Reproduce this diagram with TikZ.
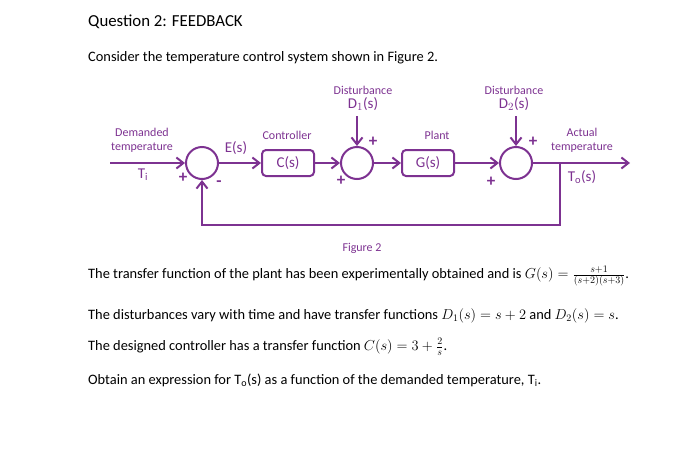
\documentclass[tikz,border=0pt]{standalone}
\usepackage{fontspec}
\setmainfont{Carlito}
\usetikzlibrary{arrows.meta}
\definecolor{pur}{RGB}{125,50,145}
\tikzset{
 sumnode/.style={circle,draw=pur,line width=2pt,minimum size=32pt,inner sep=0pt},
 blk/.style={rectangle,rounded corners=4pt,draw=pur,line width=2pt,minimum width=52pt,minimum height=26pt,text=pur,font=\fontsize{15}{15}\selectfont},
 sig/.style={draw=pur,line width=2.4pt,-{Straight Barb[length=7pt,width=11pt,line width=2pt]}},
 lbl/.style={text=pur,font=\fontsize{12}{13}\selectfont,inner sep=0pt},
 big/.style={text=pur,font=\fontsize{15}{15}\selectfont,inner sep=0pt},
 sgn/.style={text=pur,font=\bfseries\fontsize{17}{17}\selectfont,inner sep=0pt},
 txt/.style={anchor=west,inner sep=0pt,font=\fontsize{14.4}{16}\selectfont},
}
\begin{document}
\begin{tikzpicture}[x=1pt,y=-1pt]
\useasboundingbox (0,0) rectangle (700,474);
\node[txt,font=\fontsize{16.8}{18}\selectfont] (title) at (88,22) {Question 2: FEEDBACK};
\node[txt] (intro) at (88,58) {Consider the temperature control system shown in Figure 2.};
\node[sumnode] (s1) at (202,163) {};
\node[blk] (c) at (288,163) {C(s)};
\node[sumnode] (s2) at (357,163) {};
\node[blk] (g) at (428,163) {G(s)};
\node[sumnode] (s3) at (516,163) {};
\coordinate (in) at (110,163);
\coordinate (out) at (630,163);
\coordinate (br) at (560,163);
\coordinate (d1) at (357,116);
\coordinate (d2) at (516,116);
\draw[sig] (in) -- (s1);
\draw[sig] (s1) -- (c);
\draw[sig] (c) -- (s2);
\draw[sig] (s2) -- (g);
\draw[sig] (g) -- (s3);
\draw[sig] (s3) -- (out);
\draw[sig] (d1) -- (s2);
\draw[sig] (d2) -- (s3);
\draw[sig] (br) -- (560,225) -- (202,225) -- (s1);
\node[lbl] (dt1) at (363,90) {Disturbance};
\node[big] (dd1) at (363,104) {D$_1$(s)};
\node[lbl] (dt2) at (514,90) {Disturbance};
\node[big] (dd2) at (514,104) {D$_2$(s)};
\node[lbl] (cl) at (287,135) {Controller};
\node[lbl] (pl) at (437,135) {Plant};
\node[lbl] (dm) at (142,132) {Demanded};
\node[lbl] (dtm) at (142,148) {temperature};
\node[big] (ti) at (143,175) {T$_\mathrm{i}$};
\node[big] (es) at (236,148) {E(s)};
\node[lbl] (ac) at (582,132) {Actual};
\node[lbl] (atm) at (582,148) {temperature};
\node[big] (to) at (582,177) {T$_\mathrm{o}$(s)};
\node[sgn] (p1) at (183,178) {+};
\node[sgn] (m1) at (219,184) {-};
\node[sgn] (p2) at (341,181) {+};
\node[sgn] (p3) at (373,142) {+};
\node[sgn] (p4) at (491,182) {+};
\node[sgn] (p5) at (533,142) {+};
\node[lbl] (fig) at (362,248) {Figure 2};
\node[txt] (l1) at (88,276) {The transfer function of the plant has been experimentally obtained and is $G(s)=\frac{s+1}{(s+2)(s+3)}$.};
\node[txt] (l2) at (88,316) {The disturbances vary with time and have transfer functions $D_1(s)=s+2$ and $D_2(s)=s$.};
\node[txt] (l3) at (88,347) {The designed controller has a transfer function $C(s)=3+\frac{2}{s}$.};
\node[txt] (l4) at (88,380) {Obtain an expression for T$_\mathrm{o}$(s) as a function of the demanded temperature, T$_\mathrm{i}$.};
\end{tikzpicture}
\end{document}
